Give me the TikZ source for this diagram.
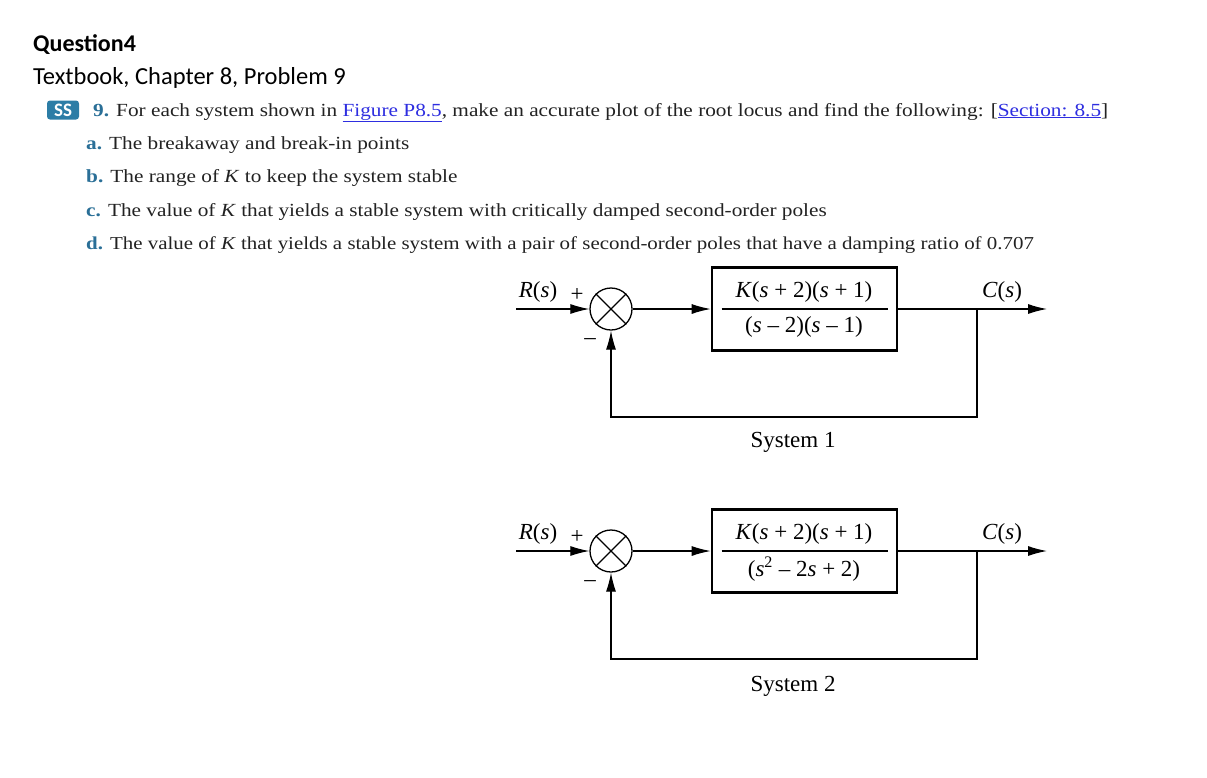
\documentclass[tikz,border=0pt]{standalone}
\usepackage{fontspec}
\setmainfont{Liberation Serif}
\newfontfamily\calib{Carlito}
\newfontfamily\bodyf[FakeStretch=1.15]{Liberation Serif}
\usetikzlibrary{arrows.meta,calc}
\definecolor{teal1}{HTML}{2C7DA6}
\definecolor{tealtxt}{HTML}{2A6F97}
\definecolor{linkblue}{HTML}{2E2EE0}
\definecolor{txtgray}{HTML}{222222}
\tikzset{
  hdr/.style={anchor=base west, inner sep=0pt, font=\calib\fontsize{24.5}{28}\selectfont},
  body/.style={anchor=base west, inner sep=0pt, text=txtgray, font=\bodyf\fontsize{18.5}{22}\selectfont},
  blk/.style={draw, line width=2.6pt, minimum width=185pt, minimum height=83pt, inner sep=0pt},
  sumj/.style={draw, circle, line width=1.3pt, minimum size=42pt, inner sep=0pt},
  lbl/.style={inner sep=0pt, font=\fontsize{23}{27}\selectfont},
  wire/.style={line width=1.2pt},
  arr/.style={wire, -{Latex[length=19pt,width=10pt]}},
}
\newcommand{\lk}[1]{\textcolor{linkblue}{\underline{#1}}}
\newcommand{\iv}[1]{\textit{#1}}
\begin{document}
\begin{tikzpicture}[x=1pt,y=-1pt]
\useasboundingbox[fill=white] (0,0) rectangle (1207,777);
\node[hdr, font=\calib\bfseries\fontsize{24}{28}\selectfont] (q4) at (33,51) {Question4};
\node[hdr] (tb) at (33,84) {Textbook, Chapter 8, Problem 9};
\node[fill=teal1, text=white, rounded corners=3pt, inner xsep=3pt, inner ysep=2pt, minimum width=32pt, minimum height=19pt, font=\calib\bfseries\fontsize{19}{20}\selectfont] (ss) at (63,110) {SS};
\node[body] (p9) at (93,116) {\textcolor{tealtxt}{\textbf{9.}} For each system shown in \lk{Figure P8.5}, make an accurate plot of the root locus and find the following: [\lk{Section: 8.5}]};
\node[body] (pa) at (86,149) {\textcolor{tealtxt}{\textbf{a.}} The breakaway and break-in points};
\node[body] (pb) at (86,182) {\textcolor{tealtxt}{\textbf{b.}} The range of \textit{K} to keep the system stable};
\node[body] (pc) at (86,216) {\textcolor{tealtxt}{\textbf{c.}} The value of \textit{K} that yields a stable system with critically damped second-order poles};
\node[body, font=\bodyf\fontsize{18.2}{22}\selectfont] (pd) at (86,249) {\textcolor{tealtxt}{\textbf{d.}} The value of \textit{K} that yields a stable system with a pair of second-order poles that have a damping ratio of 0.707};

% System 1
\coordinate (in1) at (516,309);
\node[sumj] (s1) at (611,309) {};
\draw[wire] (s1.45) -- (s1.225) (s1.135) -- (s1.315);
\node[blk] (g1) at (804.5,309) {};
\draw[wire] ($(g1.west)+(11,0)$) -- ($(g1.east)+(-10,0)$);
\node[lbl] (n1) at (804,292) {\iv{K}(\iv{s} + 2)(\iv{s} + 1)};
\node[lbl] (d1) at (804,327) {(\iv{s} – 2)(\iv{s} – 1)};
\coordinate (out1) at (1047,309);
\coordinate (br1) at (977,309);
\coordinate (fb1) at (977,417);
\coordinate (fc1) at (611,417);
\node[lbl] (r1) at (538,292) {\iv{R}(\iv{s})};
\node[lbl] (pl1) at (577,295) {+};
\node[lbl] (mi1) at (590,342) {–};
\node[lbl] (c1) at (1002,292) {\iv{C}(\iv{s})};
\node[lbl] (sys1) at (793,442) {System 1};
\draw[arr] (in1) -- (s1.west);
\draw[arr] (s1.east) -- (g1.west);
\draw[arr] (g1.east) -- (out1);
\draw[arr] (br1) -- (fb1) -- (fc1) -- (s1.south);

% System 2
\coordinate (in2) at (516,551);
\node[sumj] (s2) at (611,551) {};
\draw[wire] (s2.45) -- (s2.225) (s2.135) -- (s2.315);
\node[blk] (g2) at (804.5,551) {};
\draw[wire] ($(g2.west)+(11,0)$) -- ($(g2.east)+(-10,0)$);
\node[lbl] (n2) at (804,534) {\iv{K}(\iv{s} + 2)(\iv{s} + 1)};
\node[lbl] (d2) at (804,569) {(\iv{s}\textsuperscript{2} – 2\iv{s} + 2)};
\coordinate (out2) at (1047,551);
\coordinate (br2) at (977,551);
\coordinate (fb2) at (977,659);
\coordinate (fc2) at (611,659);
\node[lbl] (r2) at (538,534) {\iv{R}(\iv{s})};
\node[lbl] (pl2) at (577,537) {+};
\node[lbl] (mi2) at (590,584) {–};
\node[lbl] (c2) at (1002,534) {\iv{C}(\iv{s})};
\node[lbl] (sys2) at (793,686) {System 2};
\draw[arr] (in2) -- (s2.west);
\draw[arr] (s2.east) -- (g2.west);
\draw[arr] (g2.east) -- (out2);
\draw[arr] (br2) -- (fb2) -- (fc2) -- (s2.south);
\end{tikzpicture}
\end{document}
